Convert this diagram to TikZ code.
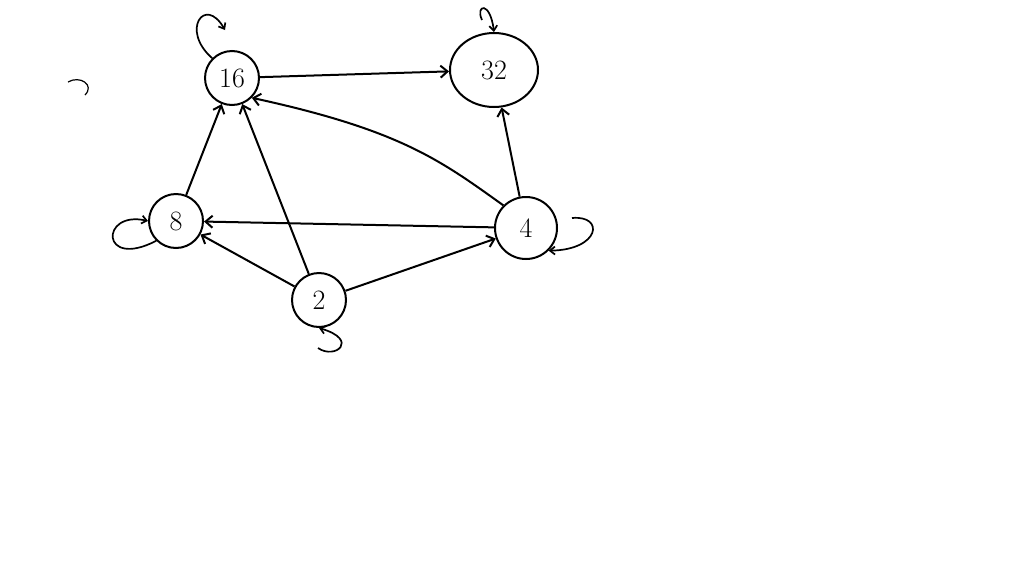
\documentclass[tikz,border=0pt]{standalone}
\usetikzlibrary{arrows.meta,shapes.geometric}
\begin{document}
\begin{tikzpicture}[x=1pt,y=-1pt,
  vtx/.style={draw,line width=2pt,circle,minimum size=54pt,inner sep=0pt,font=\fontsize{28}{30}\selectfont},
  edge/.style={line width=2pt,-{Straight Barb[length=7pt,width=12pt]}},
  loopy/.style={line width=1.7pt,-{Straight Barb[length=5pt,width=8pt]}}]
\useasboundingbox (0,0) rectangle (1024,576);
\node[vtx] (n16) at (232,78) {16};
\node[vtx,minimum width=88pt,minimum height=74pt,ellipse] (n32) at (494,70) {32};
\node[vtx] (n8) at (176,221) {8};
\node[vtx,minimum size=62pt] (n4) at (526,228) {4};
\node[vtx] (n2) at (319,300) {2};
\draw[edge] (n16) -- (n32);
\draw[edge] (n4.north west) .. controls (440,160) and (400,130) .. (n16.south east);
\draw[edge] (n4) -- (n32);
\draw[edge] (n4) -- (n8);
\draw[edge] (n2) -- (n16);
\draw[edge] (n2) -- (n8);
\draw[edge] (n2) -- (n4);
\draw[edge] (n8) -- (n16);
\draw[loopy] (n16.north west) .. controls (180,30) and (205,-5) .. (225,30);
\draw[loopy] (482,20) .. controls (475,5) and (490,0) .. (n32.north);
\draw[loopy] (n8.south west) .. controls (100,270) and (100,210) .. (n8.west);
\draw[loopy] (572,218) .. controls (605,215) and (600,250) .. (n4.south east);
\draw[loopy] (318,348) .. controls (335,360) and (360,340) .. (n2.south);
\draw[line width=1.2pt] (68,82) .. controls (80,75) and (95,85) .. (85,95);
\end{tikzpicture}
\end{document}
